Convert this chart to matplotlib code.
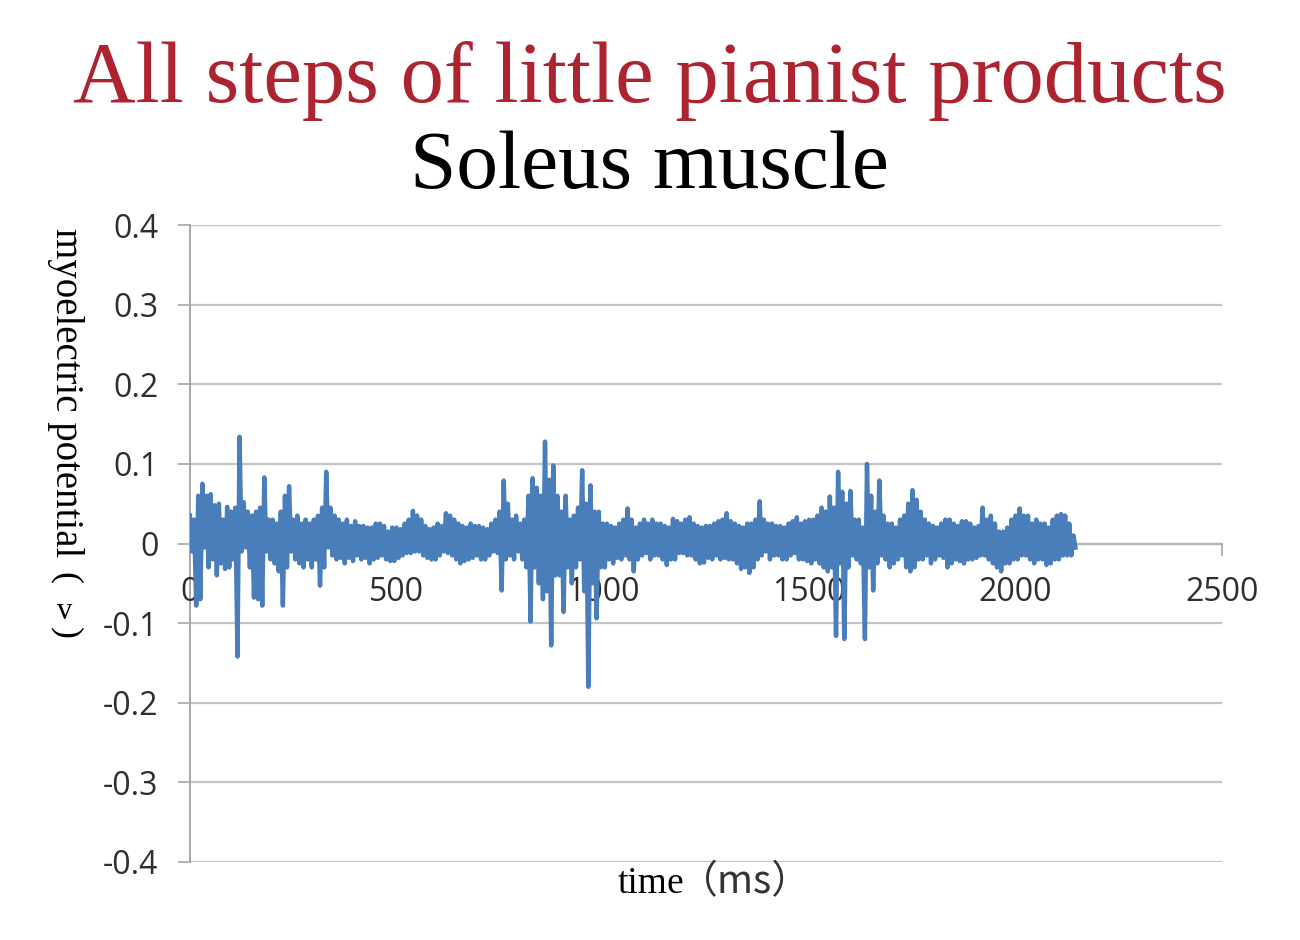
import numpy as np
import matplotlib
matplotlib.use("Agg")
import matplotlib.pyplot as plt

# ---------------- data ----------------
title_main = "All steps of little pianist products"
title_sub = "Soleus muscle"
x_label = "time"
x_unit = "（ms）"
y_label = "myoelectric potential"
y_unit = "v"

bin_ms = 10
upper_v = [
    0.035, 0.030, 0.060, 0.075, 0.060, 0.062, 0.048, 0.050, 0.030, 0.046,
    0.040, 0.045, 0.134, 0.052, 0.040, 0.035, 0.040, 0.045, 0.083, 0.030,
    0.030, 0.025, 0.040, 0.060, 0.072, 0.030, 0.035, 0.025, 0.030, 0.025,
    0.030, 0.035, 0.045, 0.090, 0.045, 0.035, 0.030, 0.025, 0.030, 0.022,
    0.028, 0.022, 0.022, 0.020, 0.020, 0.025, 0.025, 0.022, 0.015, 0.020,
    0.020, 0.018, 0.025, 0.030, 0.041, 0.035, 0.030, 0.022, 0.018, 0.020,
    0.025, 0.022, 0.038, 0.035, 0.030, 0.025, 0.022, 0.020, 0.025, 0.022,
    0.022, 0.020, 0.018, 0.025, 0.030,
    0.040, 0.079, 0.050, 0.030, 0.035, 0.025, 0.030, 0.060, 0.082, 0.070,
    0.060, 0.128, 0.080, 0.098, 0.060, 0.040, 0.060, 0.030, 0.035, 0.045,
    0.092, 0.050, 0.073, 0.040, 0.040,
    0.025, 0.025, 0.022, 0.020, 0.025, 0.030, 0.044, 0.030, 0.020, 0.025,
    0.030, 0.025, 0.030, 0.025, 0.025, 0.022, 0.020, 0.031, 0.028, 0.025,
    0.030, 0.033, 0.025, 0.022, 0.020, 0.022, 0.022, 0.025, 0.028, 0.030,
    0.038, 0.028, 0.025, 0.022, 0.020, 0.025, 0.025, 0.030, 0.053, 0.030,
    0.025, 0.025, 0.022, 0.022, 0.020, 0.025, 0.028, 0.033, 0.025, 0.028,
    0.030, 0.030, 0.035, 0.045, 0.040,
    0.059, 0.045, 0.090, 0.065, 0.050, 0.066, 0.030, 0.030, 0.020, 0.100,
    0.060, 0.040, 0.079, 0.035, 0.025, 0.025, 0.020, 0.030, 0.035, 0.050,
    0.067, 0.055, 0.040, 0.030, 0.025, 0.022, 0.020, 0.025, 0.030, 0.030,
    0.025, 0.022, 0.028, 0.028, 0.025, 0.020, 0.022, 0.045, 0.030, 0.035,
    0.025, 0.015, 0.015, 0.020, 0.030, 0.035, 0.044, 0.035, 0.035, 0.025,
    0.030, 0.025, 0.025, 0.020, 0.030, 0.035, 0.037, 0.035, 0.025, 0.010,
]
lower_v = [
    -0.010, -0.078, -0.070, -0.005, -0.030, -0.020, -0.040, -0.025, -0.032, -0.030,
    -0.020, -0.142, -0.010, -0.005, -0.030, -0.068, -0.070, -0.078, -0.010, -0.020,
    -0.025, -0.035, -0.078, -0.030, -0.010, -0.020, -0.025, -0.030, -0.020, -0.030,
    -0.020, -0.053, -0.030, -0.005, -0.015, -0.020, -0.018, -0.025, -0.018, -0.022,
    -0.015, -0.020, -0.018, -0.025, -0.020, -0.018, -0.015, -0.020, -0.022, -0.022,
    -0.018, -0.015, -0.012, -0.012, -0.010, -0.010, -0.015, -0.018, -0.020, -0.020,
    -0.015, -0.010, -0.012, -0.015, -0.020, -0.025, -0.022, -0.020, -0.018, -0.015,
    -0.020, -0.020, -0.015, -0.010, -0.012,
    -0.059, -0.020, -0.015, -0.020, -0.010, -0.020, -0.030, -0.098, -0.030, -0.050,
    -0.070, -0.060, -0.128, -0.040, -0.040, -0.086, -0.030, -0.050, -0.030, -0.020,
    -0.060, -0.180, -0.050, -0.094, -0.030,
    -0.030, -0.020, -0.025, -0.018, -0.020, -0.015, -0.020, -0.035, -0.020, -0.015,
    -0.012, -0.020, -0.015, -0.015, -0.020, -0.027, -0.020, -0.020, -0.012, -0.012,
    -0.015, -0.015, -0.020, -0.025, -0.024, -0.018, -0.020, -0.015, -0.020, -0.018,
    -0.020, -0.020, -0.025, -0.032, -0.030, -0.037, -0.030, -0.020, -0.015, -0.010,
    -0.020, -0.015, -0.015, -0.020, -0.020, -0.015, -0.012, -0.020, -0.020, -0.022,
    -0.025, -0.020, -0.025, -0.030, -0.035,
    -0.030, -0.116, -0.025, -0.120, -0.030, -0.015, -0.020, -0.025, -0.120, -0.030,
    -0.059, -0.025, -0.015, -0.020, -0.030, -0.025, -0.020, -0.015, -0.030, -0.035,
    -0.030, -0.020, -0.020, -0.015, -0.025, -0.020, -0.015, -0.018, -0.030, -0.025,
    -0.020, -0.022, -0.025, -0.020, -0.020, -0.018, -0.015, -0.015, -0.020, -0.025,
    -0.030, -0.035, -0.025, -0.025, -0.020, -0.020, -0.015, -0.015, -0.020, -0.025,
    -0.020, -0.020, -0.027, -0.025, -0.020, -0.020, -0.015, -0.015, -0.015, -0.005,
]
assert len(upper_v) == len(lower_v)

x_ticks = [0, 500, 1000, 1500, 2000, 2500]
x_tick_labels = ["0", "500", "1000", "1500", "2000", "2500"]
y_ticks = [0.4, 0.3, 0.2, 0.1, 0.0, -0.1, -0.2, -0.3, -0.4]
y_tick_labels = ["0.4", "0.3", "0.2", "0.1", "0", "-0.1", "-0.2", "-0.3", "-0.4"]

# ---------------- figure ----------------
W, H = 1300, 940
fig = plt.figure(figsize=(W / 100, H / 100), dpi=100)
fig.patch.set_facecolor("white")

def fx(px):
    return px / W

def fy(py):
    return 1 - py / H

ax = fig.add_axes([fx(190), fy(862), (1222 - 190) / W, (862 - 225) / H])
ax.set_xlim(0, 2500)
ax.set_ylim(-0.4, 0.4)

grid_col = "#C4C4C4"
for yv in y_ticks:
    ax.axhline(yv, color=grid_col, lw=1.6, zorder=0.5)

# interleave the max and min of each bin (max at bin start, min half a bin later)
bin_start = np.arange(len(upper_v)) * bin_ms
trace_t = np.column_stack([bin_start, bin_start + bin_ms / 2]).ravel()
trace_v = np.column_stack([upper_v, lower_v]).ravel()
ax.plot(trace_t, trace_v, color="#4A7EBB", lw=3.2, zorder=2)

for s in ["top", "right"]:
    ax.spines[s].set_visible(False)
ax.spines["left"].set_color("#A6A6A6")
ax.spines["left"].set_linewidth(1.4)
ax.spines["left"].set_zorder(0.6)
ax.spines["bottom"].set_position(("data", 0))
ax.spines["bottom"].set_color("#B4B4B4")
ax.spines["bottom"].set_linewidth(1.6)
ax.spines["bottom"].set_zorder(0.6)

tick_font = dict(family="Open Sans", size=23)
ax.set_xticks(x_ticks)
ax.set_xticklabels(x_tick_labels, fontdict=tick_font, color="#2E2E2E")
ax.set_yticks(y_ticks)
ax.set_yticklabels(y_tick_labels, fontdict=tick_font, color="#2E2E2E")
ax.tick_params(axis="both", direction="out", length=8.6, width=1.2, color="#A6A6A6", pad=14)
ax.tick_params(axis="x", pad=15)

# titles
fig.text(fx(650), fy(102), title_main, ha="center", va="baseline",
         family="Liberation Serif", size=62.5, color="#AE2330")
fig.text(fx(649), fy(188), title_sub, ha="center", va="baseline",
         family="Liberation Serif", size=60, color="black")

# x label
fig.text(fx(684), fy(893), x_label, ha="right", va="baseline",
         family="Liberation Serif", size=27, color="black")
fig.text(fx(679), fy(893), x_unit, ha="left", va="baseline",
         family=["Noto Sans CJK JP", "DejaVu Sans"], size=28, color="#333333")

# y label (vertical text, unit upright between turned brackets)
fig.text(fx(65), fy(228), y_label, ha="center", va="top", rotation=270,
         family="Liberation Serif", size=28, color="black")
fig.text(fx(66), fy(578), "(", ha="center", va="center", rotation=270,
         family="Liberation Serif", size=26, color="black")
fig.text(fx(65), fy(619), y_unit, ha="center", va="baseline",
         family="Liberation Serif", size=22, color="black")
fig.text(fx(66), fy(633), ")", ha="center", va="center", rotation=270,
         family="Liberation Serif", size=26, color="black")

fig.savefig("out.png", dpi=100, facecolor="white")
